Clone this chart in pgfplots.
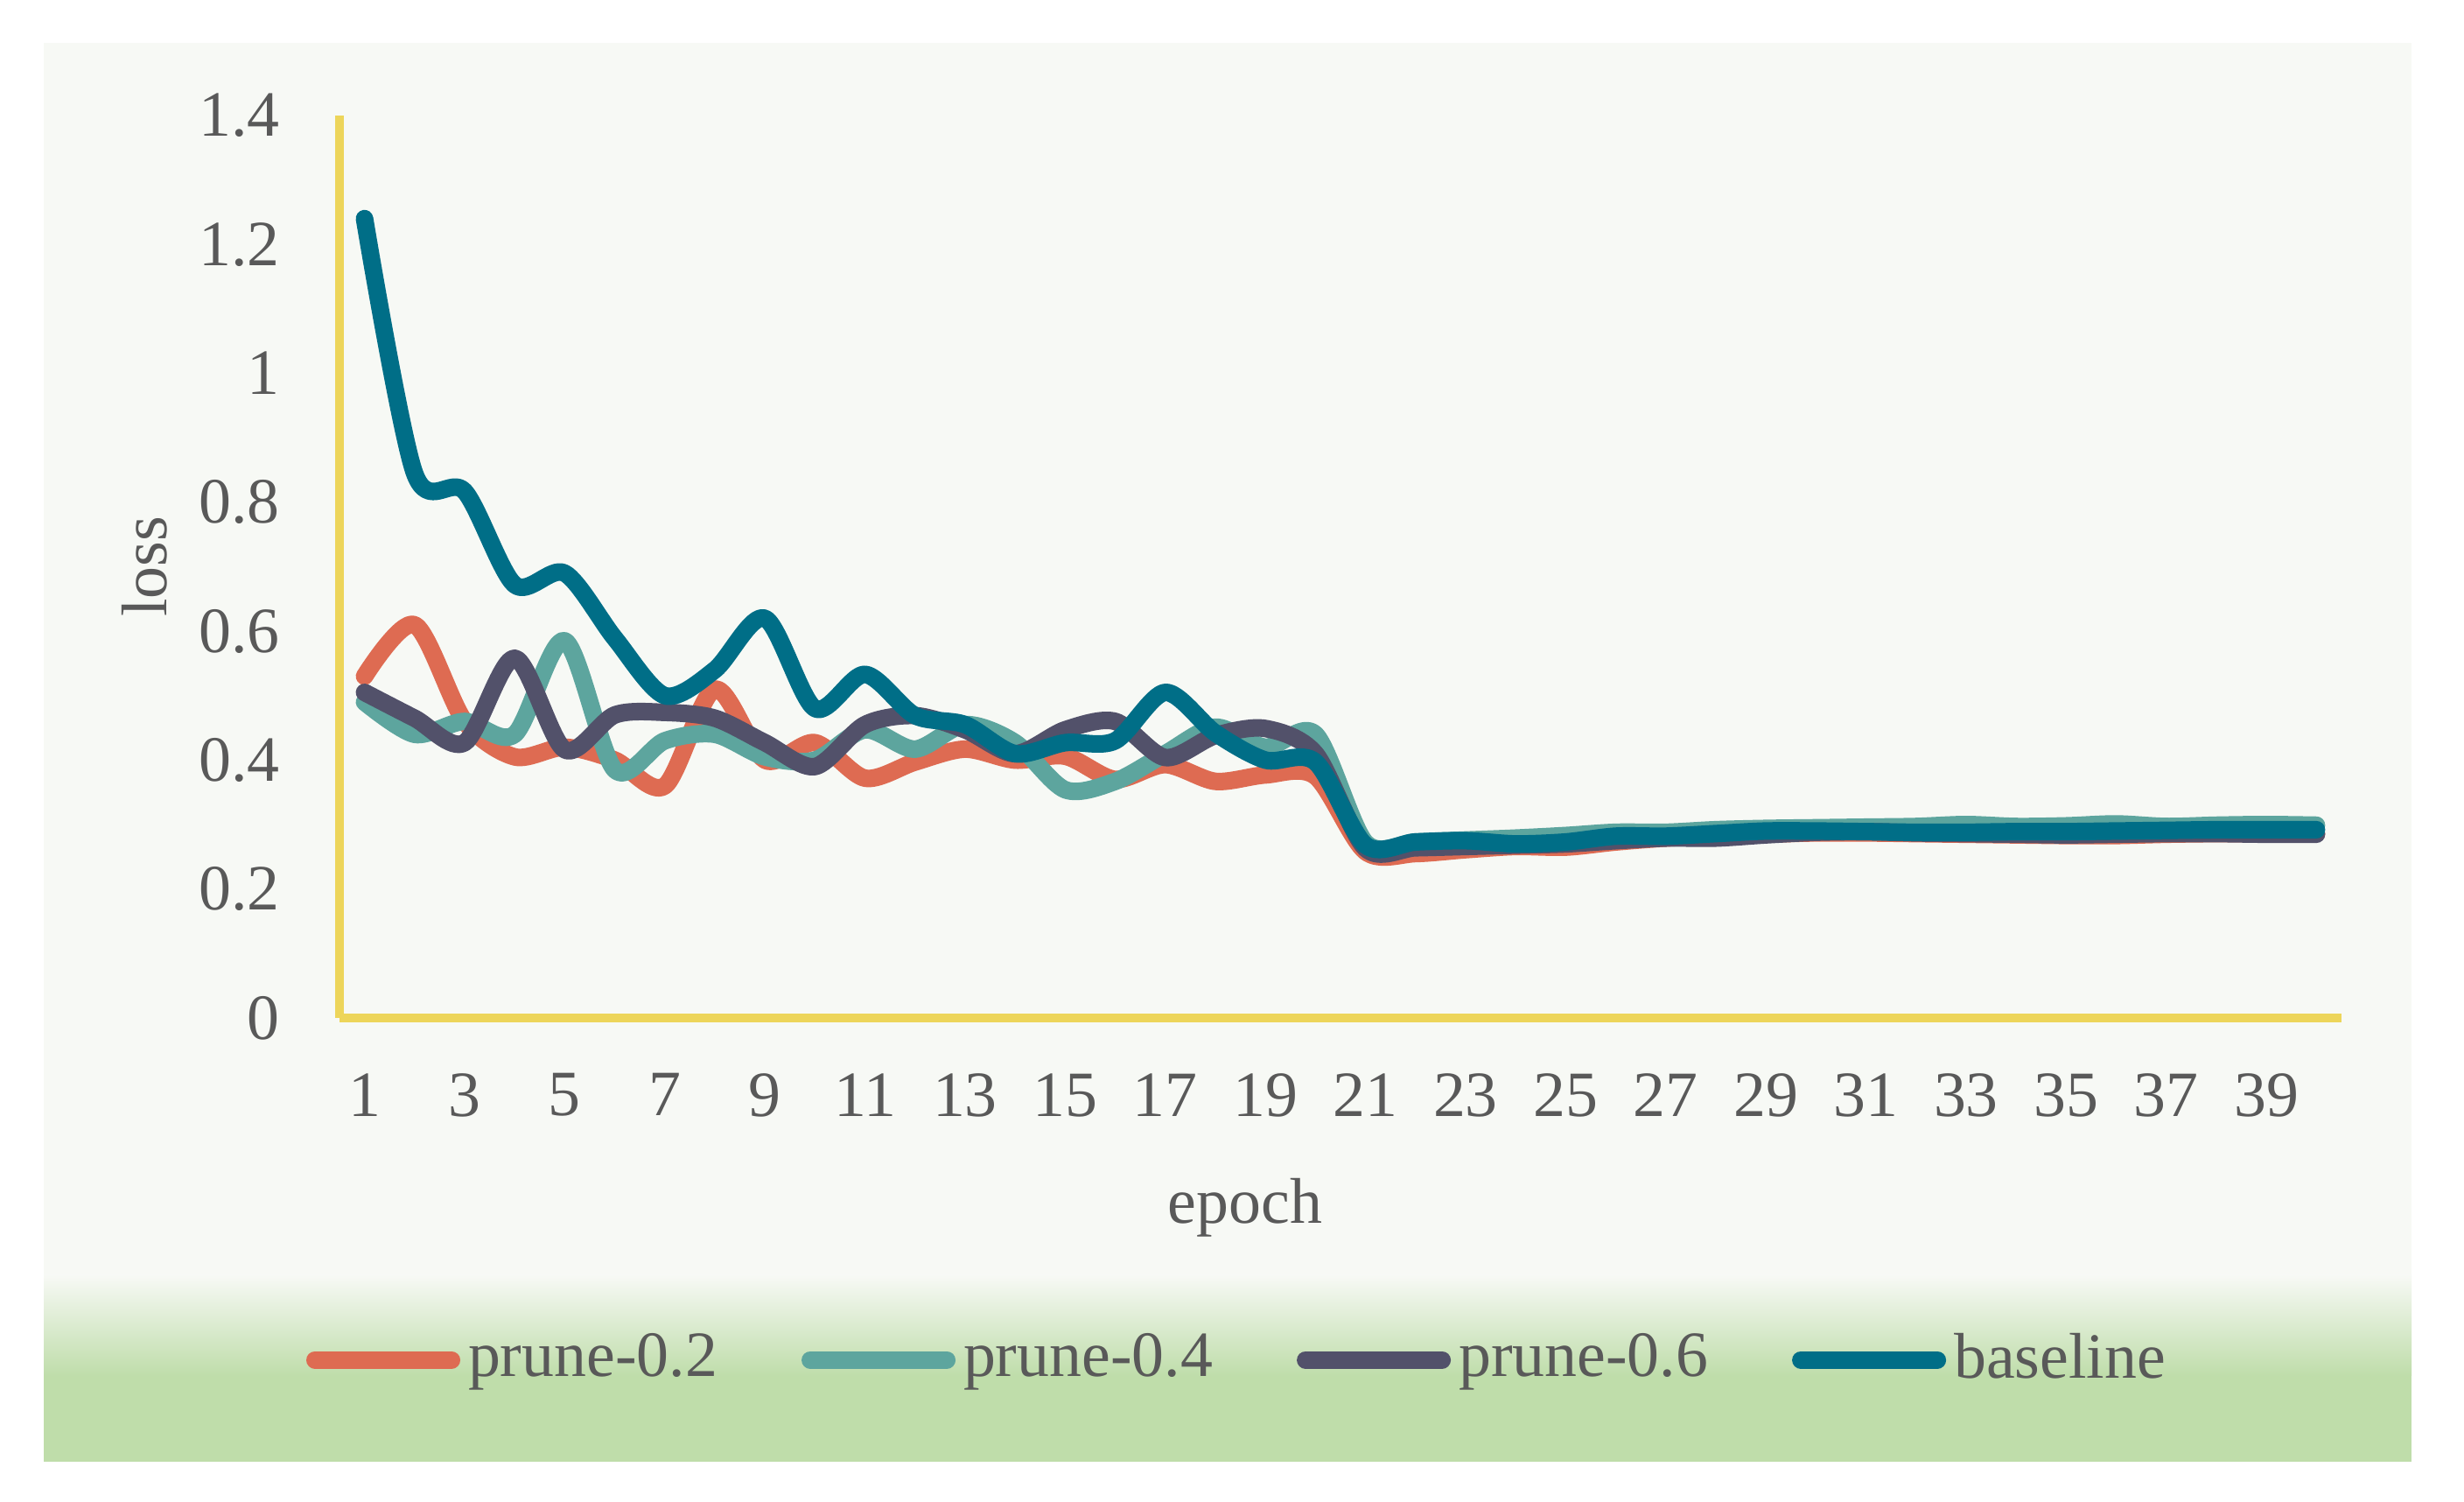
\documentclass[border=0pt]{standalone}
\usepackage{fontspec}
\setmainfont{Liberation Serif}
\usepackage{pgfplots}
\usepackage{pgfplotstable}
\pgfplotsset{compat=1.18}

\definecolor{c02}{HTML}{DE6B52}
\definecolor{c04}{HTML}{5DA59E}
\definecolor{c06}{HTML}{52516A}
\definecolor{cbase}{HTML}{006E87}
\definecolor{axisyellow}{HTML}{EDD55A}
\definecolor{panel}{HTML}{F7F9F5}
\definecolor{leafgreen}{HTML}{BFDDAA}
\definecolor{txt}{HTML}{595959}

% epoch, prune-0.2, prune-0.4, prune-0.6, baseline
\pgfplotstableread{
epoch p02   p04   p06   base
1     0.530 0.490 0.505 1.240
2     0.610 0.440 0.465 0.845
3     0.460 0.460 0.427 0.817
4     0.405 0.440 0.558 0.672
5     0.420 0.585 0.416 0.690
6     0.400 0.385 0.470 0.589
7     0.360 0.430 0.474 0.500
8     0.510 0.440 0.465 0.540
9     0.400 0.405 0.427 0.620
10    0.427 0.400 0.390 0.480
11    0.372 0.447 0.455 0.533
12    0.397 0.417 0.469 0.469
13    0.417 0.455 0.447 0.455
14    0.400 0.427 0.410 0.410
15    0.406 0.354 0.447 0.427
16    0.370 0.367 0.460 0.430
17    0.393 0.410 0.404 0.505
18    0.367 0.451 0.438 0.442
19    0.377 0.420 0.449 0.400
20    0.375 0.440 0.410 0.397
21    0.258 0.272 0.263 0.268
22    0.255 0.273 0.264 0.273
23    0.261 0.276 0.266 0.275
24    0.266 0.279 0.268 0.270
25    0.265 0.283 0.270 0.273
26    0.273 0.288 0.275 0.282
27    0.279 0.288 0.279 0.282
28    0.282 0.292 0.279 0.286
29    0.285 0.294 0.284 0.290
30    0.287 0.295 0.288 0.290
31    0.287 0.296 0.289 0.289
32    0.286 0.297 0.287 0.288
33    0.285 0.300 0.286 0.288
34    0.284 0.297 0.285 0.289
35    0.283 0.298 0.284 0.289
36    0.283 0.301 0.285 0.290
37    0.285 0.297 0.286 0.291
38    0.286 0.299 0.286 0.292
39    0.286 0.300 0.285 0.292
40    0.286 0.299 0.285 0.292
}\losstable

\begin{document}
\begin{tikzpicture}
% page, panel and green band at the bottom
\fill[white] (0,0) rectangle (14.08,8.58);
\fill[panel] (0.25,0.23) rectangle (13.78,8.335);
\fill[leafgreen] (0.25,0.23) rectangle (13.78,0.73);
\shade[top color=panel, bottom color=leafgreen] (0.25,0.72) rectangle (13.78,1.295);

\begin{axis}[
    at={(1.94cm,2.765cm)}, anchor=south west,
    scale only axis,
    width=11.44cm, height=5.155cm,
    xmin=0.5, xmax=40.5,
    ymin=0, ymax=1.4,
    xtick={1,3,...,39},
    ytick={0,0.2,0.4,0.6,0.8,1,1.2,1.4},
    axis lines*=left,
    axis line style={draw=axisyellow, line width=1.45pt},
    major tick length=0pt,
    /pgf/number format/assume math mode=true,
    /pgf/number format/fixed,
    tick label style={font=\fontsize{10.5}{12}\selectfont, text=txt},
    xticklabel style={anchor=north, inner sep=0pt, yshift=-0.31cm},
    yticklabel style={anchor=east, inner sep=0pt, xshift=-0.335cm},
    xlabel={epoch},
    xlabel style={at={(axis description cs:0.4523,0)}, anchor=base,
        yshift=-1.175cm, inner sep=0pt,
        font=\fontsize{10.5}{12}\selectfont, text=txt},
    ylabel={loss},
    ylabel style={at={(axis description cs:-0.0865,0.5)}, anchor=base,
        rotate=0, inner sep=0pt,
        font=\fontsize{10.5}{12}\selectfont, text=txt},
    every axis plot/.append style={line width=2.85pt, line join=round,
        line cap=round, smooth},
    legend columns=4,
    legend style={draw=none, fill=none,
        at={(axis description cs:-0.0166,-0.379)}, anchor=west,
        font=\fontsize{10.5}{12}\selectfont, text=txt,
        inner sep=0pt, outer sep=0pt, nodes={inner sep=0pt},
        /tikz/every odd column/.append style={column sep=0.045cm}},
    legend image code/.code={\draw[#1] (0.05cm,0cm) -- (0.83cm,0cm);},
]
\addplot[c02] table[x=epoch, y=p02] {\losstable};
\addlegendentry{\makebox[1.905cm][l]{prune-0.2}}
\addplot[c04] table[x=epoch, y=p04] {\losstable};
\addlegendentry{\makebox[1.905cm][l]{prune-0.4}}
\addplot[c06] table[x=epoch, y=p06] {\losstable};
\addlegendentry{\makebox[1.905cm][l]{prune-0.6}}
\addplot[cbase] table[x=epoch, y=base] {\losstable};
\addlegendentry{\makebox[1.905cm][l]{baseline}}
\end{axis}
\end{tikzpicture}
\end{document}
